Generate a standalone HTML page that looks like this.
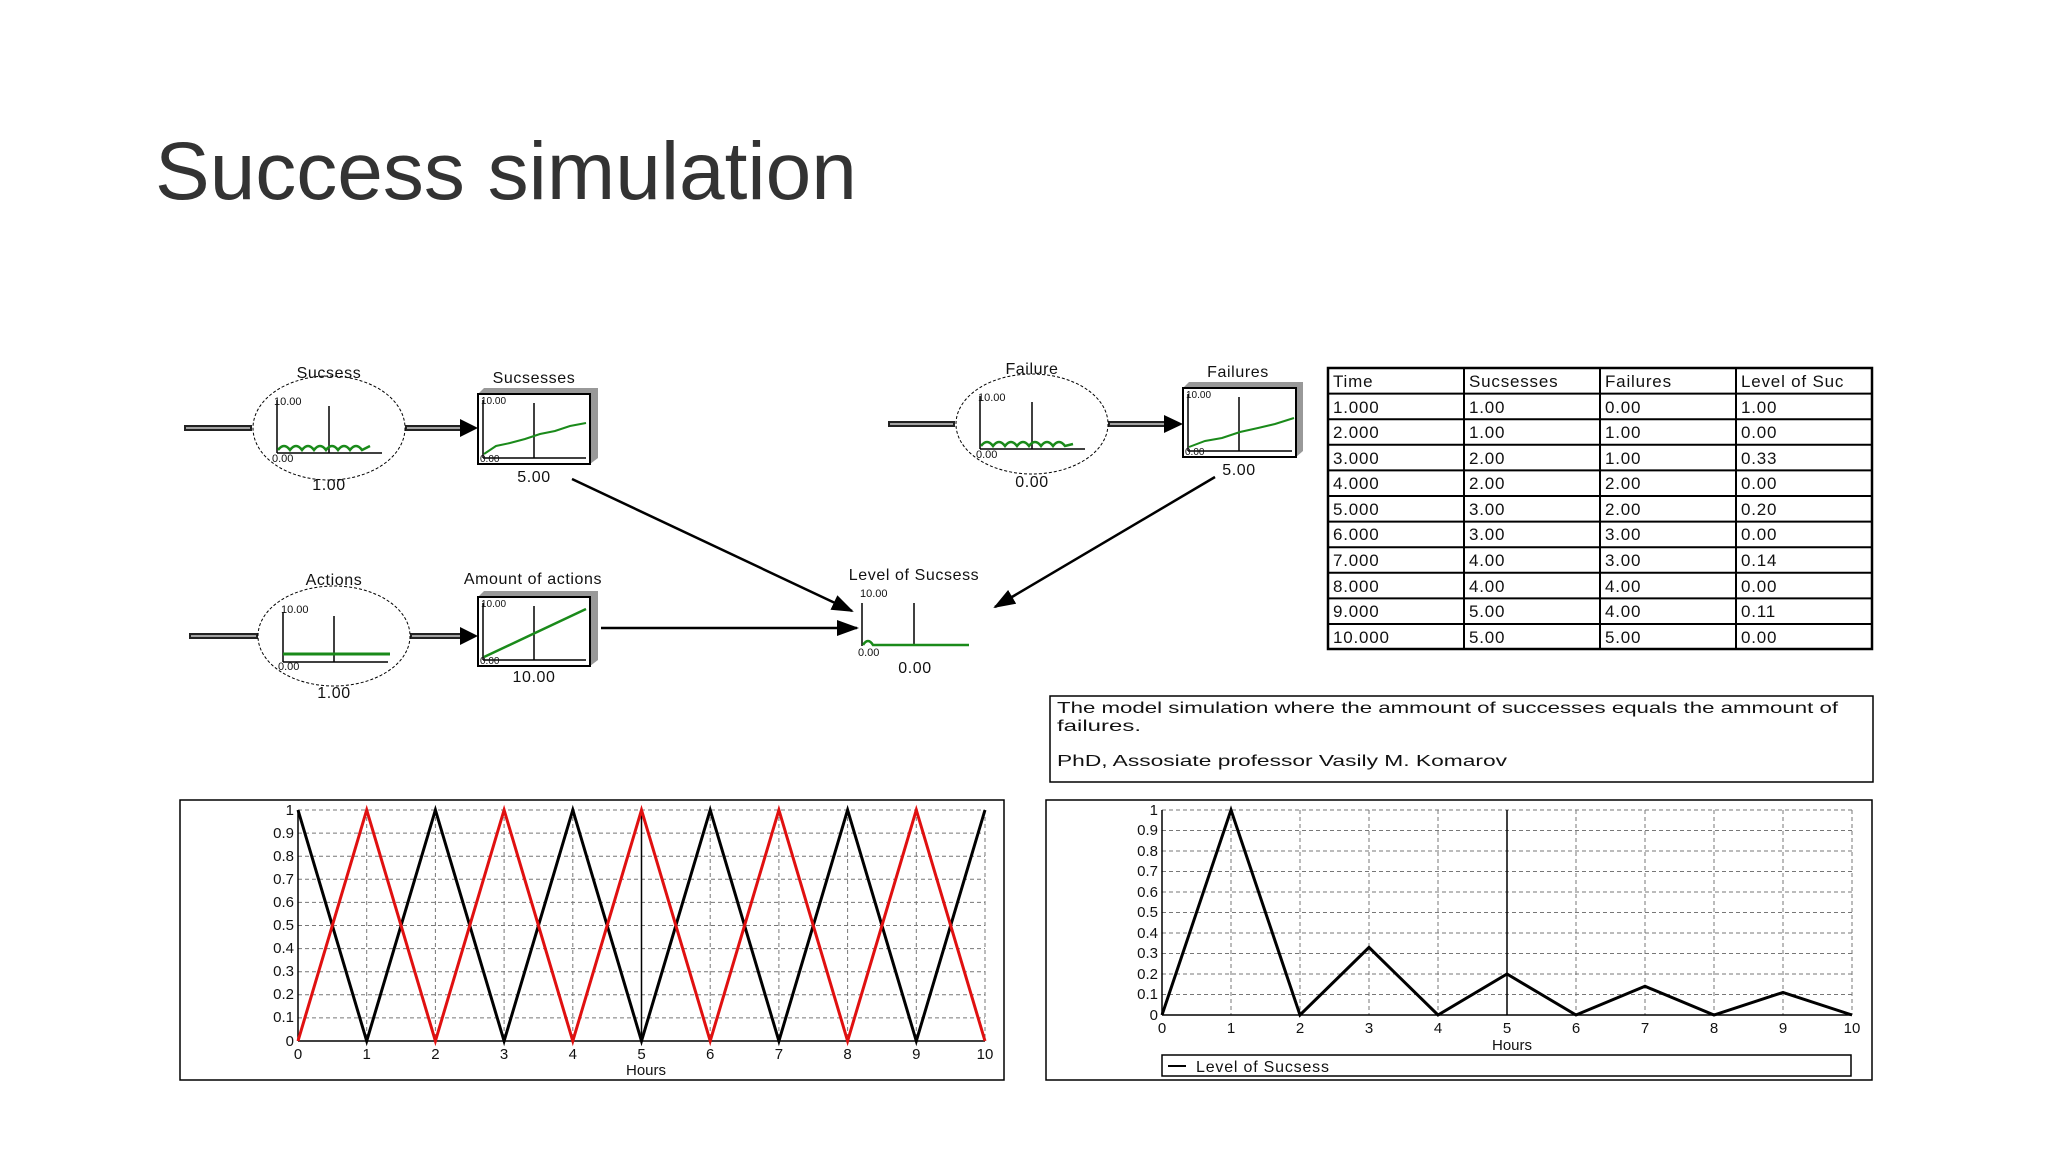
<!DOCTYPE html>
<html><head><meta charset="utf-8"><style>
html,body{margin:0;padding:0;background:#fff;}
svg{display:block;font-family:"Liberation Sans",sans-serif;}
</style></head><body>
<svg width="2048" height="1152" viewBox="0 0 2048 1152" xmlns="http://www.w3.org/2000/svg">
<defs>
<marker id="ab" markerWidth="22" markerHeight="16" refX="20" refY="8" orient="auto" markerUnits="userSpaceOnUse"><path d="M0,0 L22,8 L0,16 Z" fill="#000"/></marker>
</defs>
<rect width="2048" height="1152" fill="#fff"/>
<text x="155" y="199" font-size="82" fill="#333">Success simulation</text>

<g font-size="16" fill="#111" text-anchor="middle" letter-spacing="0.6">
<g stroke="#222" stroke-width="6" fill="none">
<line x1="184" y1="428" x2="252" y2="428"/><line x1="405" y1="428" x2="462" y2="428"/>
<line x1="189" y1="636" x2="258" y2="636"/><line x1="410" y1="636" x2="462" y2="636"/>
<line x1="888" y1="424" x2="955" y2="424"/><line x1="1108" y1="424" x2="1166" y2="424"/>
</g>
<g stroke="#ccc" stroke-width="1.5" fill="none">
<line x1="186" y1="428" x2="250" y2="428"/><line x1="407" y1="428" x2="460" y2="428"/>
<line x1="191" y1="636" x2="256" y2="636"/><line x1="412" y1="636" x2="460" y2="636"/>
<line x1="890" y1="424" x2="953" y2="424"/><line x1="1110" y1="424" x2="1164" y2="424"/>
</g>
<path d="M460,419 L478,428 L460,437Z M460,627 L478,636 L460,645Z M1164,415 L1183,424 L1164,433Z" fill="#000"/>

<ellipse cx="329" cy="428" rx="76" ry="52" fill="none" stroke="#000" stroke-dasharray="3,2"/>
<text x="329" y="378">Sucsess</text><text x="329" y="490">1.00</text>
<g stroke="#000" stroke-width="1.5"><line x1="277" y1="400" x2="277" y2="453"/><line x1="329" y1="406" x2="329" y2="453"/><line x1="277" y1="453" x2="382" y2="453"/></g>
<path d="M278,450 q6,-8 12,0 q6,-8 12,0 q6,-8 12,0 q6,-8 12,0 q6,-8 12,0 q6,-8 12,0 q6,-8 12,0 l8,-4" stroke="#1a8a1a" stroke-width="2.5" fill="none"/>
<text x="274" y="405" font-size="11" text-anchor="start" letter-spacing="0">10.00</text><text x="272" y="462" font-size="11" text-anchor="start" letter-spacing="0">0.00</text>

<path d="M478,394 L484,388 L598,388 L598,458 L590,464Z" fill="#999"/>
<rect x="478" y="394" width="112" height="70" fill="#fff" stroke="#000" stroke-width="2"/>
<text x="534" y="383">Sucsesses</text><text x="534" y="482">5.00</text>
<g stroke="#000" stroke-width="1.5"><line x1="483" y1="400" x2="483" y2="458"/><line x1="534" y1="403" x2="534" y2="458"/><line x1="483" y1="458" x2="586" y2="458"/></g>
<path d="M484,454 L496,446 L510,443 L525,439 L540,434 L555,431 L570,426 L586,423" stroke="#1a8a1a" stroke-width="2" fill="none"/>
<text x="481" y="404" font-size="10" text-anchor="start" letter-spacing="0">10.00</text><text x="480" y="462" font-size="10" text-anchor="start" letter-spacing="0">0.00</text>

<ellipse cx="334" cy="636" rx="76" ry="50" fill="none" stroke="#000" stroke-dasharray="3,2"/>
<text x="334" y="585">Actions</text><text x="334" y="698">1.00</text>
<g stroke="#000" stroke-width="1.5"><line x1="283" y1="612" x2="283" y2="662"/><line x1="334" y1="616" x2="334" y2="662"/><line x1="283" y1="662" x2="388" y2="662"/></g>
<line x1="283" y1="654" x2="390" y2="654" stroke="#1a8a1a" stroke-width="3"/>
<text x="281" y="613" font-size="11" text-anchor="start" letter-spacing="0">10.00</text><text x="278" y="670" font-size="11" text-anchor="start" letter-spacing="0">0.00</text>

<path d="M478,597 L484,591 L598,591 L598,660 L590,666Z" fill="#999"/>
<rect x="478" y="597" width="112" height="69" fill="#fff" stroke="#000" stroke-width="2"/>
<text x="533" y="584">Amount of actions</text><text x="534" y="682">10.00</text>
<g stroke="#000" stroke-width="1.5"><line x1="483" y1="603" x2="483" y2="660"/><line x1="534" y1="606" x2="534" y2="660"/><line x1="483" y1="660" x2="586" y2="660"/></g>
<path d="M484,657 L586,609" stroke="#1a8a1a" stroke-width="2.5" fill="none"/>
<text x="481" y="607" font-size="10" text-anchor="start" letter-spacing="0">10.00</text><text x="480" y="664" font-size="10" text-anchor="start" letter-spacing="0">0.00</text>

<ellipse cx="1032" cy="424" rx="76" ry="50" fill="none" stroke="#000" stroke-dasharray="3,2"/>
<text x="1032" y="374">Failure</text><text x="1032" y="487">0.00</text>
<g stroke="#000" stroke-width="1.5"><line x1="980" y1="396" x2="980" y2="449"/><line x1="1032" y1="402" x2="1032" y2="449"/><line x1="980" y1="449" x2="1085" y2="449"/></g>
<path d="M981,446 q6,-8 12,0 q6,-8 12,0 q6,-8 12,0 q6,-8 12,0 q6,-8 12,0 q6,-8 12,0 q6,-8 12,0 l8,-2" stroke="#1a8a1a" stroke-width="2.5" fill="none"/>
<text x="978" y="401" font-size="11" text-anchor="start" letter-spacing="0">10.00</text><text x="976" y="458" font-size="11" text-anchor="start" letter-spacing="0">0.00</text>

<path d="M1183,388 L1189,382 L1303,382 L1303,451 L1296,457Z" fill="#999"/>
<rect x="1183" y="388" width="113" height="69" fill="#fff" stroke="#000" stroke-width="2"/>
<text x="1238" y="377">Failures</text><text x="1239" y="475">5.00</text>
<g stroke="#000" stroke-width="1.5"><line x1="1188" y1="394" x2="1188" y2="451"/><line x1="1239" y1="397" x2="1239" y2="451"/><line x1="1188" y1="451" x2="1292" y2="451"/></g>
<path d="M1189,447 L1205,441 L1222,438 L1240,432 L1258,428 L1275,424 L1294,418" stroke="#1a8a1a" stroke-width="2" fill="none"/>
<text x="1186" y="398" font-size="10" text-anchor="start" letter-spacing="0">10.00</text><text x="1185" y="455" font-size="10" text-anchor="start" letter-spacing="0">0.00</text>

<text x="914" y="580">Level of Sucsess</text><text x="915" y="673">0.00</text>
<g stroke="#000" stroke-width="1.5"><line x1="862" y1="603" x2="862" y2="646"/><line x1="914" y1="603" x2="914" y2="646"/></g>
<path d="M863,645 q5,-8 10,0 L969,645" stroke="#1a8a1a" stroke-width="2.5" fill="none"/>
<text x="860" y="597" font-size="11" text-anchor="start" letter-spacing="0">10.00</text><text x="858" y="656" font-size="11" text-anchor="start" letter-spacing="0">0.00</text>

<g stroke="#000" stroke-width="2.5" fill="none">
<line x1="572" y1="479" x2="852" y2="611" marker-end="url(#ab)"/>
<line x1="601" y1="628" x2="857" y2="628" marker-end="url(#ab)"/>
<line x1="1215" y1="477" x2="995" y2="607" marker-end="url(#ab)"/>
</g>
</g>

<g font-size="17" fill="#111" letter-spacing="0.8">
<rect x="1328" y="368" width="544" height="281" fill="#fff" stroke="#000" stroke-width="2.5"/>
<g stroke="#000" stroke-width="2">
<line x1="1464" y1="368" x2="1464" y2="649"/><line x1="1600" y1="368" x2="1600" y2="649"/><line x1="1736" y1="368" x2="1736" y2="649"/>
<line x1="1328" y1="393.6" x2="1872" y2="393.6"/><line x1="1328" y1="419.2" x2="1872" y2="419.2"/><line x1="1328" y1="444.8" x2="1872" y2="444.8"/><line x1="1328" y1="470.4" x2="1872" y2="470.4"/><line x1="1328" y1="496" x2="1872" y2="496"/><line x1="1328" y1="521.6" x2="1872" y2="521.6"/><line x1="1328" y1="547.2" x2="1872" y2="547.2"/><line x1="1328" y1="572.8" x2="1872" y2="572.8"/><line x1="1328" y1="598.4" x2="1872" y2="598.4"/><line x1="1328" y1="624" x2="1872" y2="624"/>
</g>
<text x="1333" y="387">Time</text><text x="1469" y="387">Sucsesses</text><text x="1605" y="387">Failures</text><text x="1741" y="387">Level of Suc</text>
<text x="1333" y="413">1.000</text><text x="1469" y="413">1.00</text><text x="1605" y="413">0.00</text><text x="1741" y="413">1.00</text>
<text x="1333" y="438">2.000</text><text x="1469" y="438">1.00</text><text x="1605" y="438">1.00</text><text x="1741" y="438">0.00</text>
<text x="1333" y="464">3.000</text><text x="1469" y="464">2.00</text><text x="1605" y="464">1.00</text><text x="1741" y="464">0.33</text>
<text x="1333" y="489">4.000</text><text x="1469" y="489">2.00</text><text x="1605" y="489">2.00</text><text x="1741" y="489">0.00</text>
<text x="1333" y="515">5.000</text><text x="1469" y="515">3.00</text><text x="1605" y="515">2.00</text><text x="1741" y="515">0.20</text>
<text x="1333" y="540">6.000</text><text x="1469" y="540">3.00</text><text x="1605" y="540">3.00</text><text x="1741" y="540">0.00</text>
<text x="1333" y="566">7.000</text><text x="1469" y="566">4.00</text><text x="1605" y="566">3.00</text><text x="1741" y="566">0.14</text>
<text x="1333" y="592">8.000</text><text x="1469" y="592">4.00</text><text x="1605" y="592">4.00</text><text x="1741" y="592">0.00</text>
<text x="1333" y="617">9.000</text><text x="1469" y="617">5.00</text><text x="1605" y="617">4.00</text><text x="1741" y="617">0.11</text>
<text x="1333" y="643">10.000</text><text x="1469" y="643">5.00</text><text x="1605" y="643">5.00</text><text x="1741" y="643">0.00</text>
</g>

<rect x="1050" y="696" width="823" height="86" fill="#fff" stroke="#000" stroke-width="1.5"/>
<g font-size="16" fill="#111">
<text x="1057" y="713" textLength="781" lengthAdjust="spacingAndGlyphs">The model simulation where the ammount of successes equals the ammount of</text>
<text x="1057" y="731" textLength="84" lengthAdjust="spacingAndGlyphs">failures.</text>
<text x="1057" y="766" textLength="450" lengthAdjust="spacingAndGlyphs">PhD, Assosiate professor Vasily M. Komarov</text>
</g>

<rect x="180" y="800" width="824" height="280" fill="#fff" stroke="#000" stroke-width="1.5"/>
<g stroke="#777" stroke-width="1" stroke-dasharray="4,3">
<line x1="298" y1="810" x2="985" y2="810"/><line x1="298" y1="833.1" x2="985" y2="833.1"/><line x1="298" y1="856.2" x2="985" y2="856.2"/><line x1="298" y1="879.3" x2="985" y2="879.3"/><line x1="298" y1="902.4" x2="985" y2="902.4"/><line x1="298" y1="925.5" x2="985" y2="925.5"/><line x1="298" y1="948.6" x2="985" y2="948.6"/><line x1="298" y1="971.7" x2="985" y2="971.7"/><line x1="298" y1="994.8" x2="985" y2="994.8"/><line x1="298" y1="1017.9" x2="985" y2="1017.9"/>
<line x1="366.7" y1="810" x2="366.7" y2="1041"/><line x1="435.4" y1="810" x2="435.4" y2="1041"/><line x1="504.1" y1="810" x2="504.1" y2="1041"/><line x1="572.8" y1="810" x2="572.8" y2="1041"/><line x1="710.2" y1="810" x2="710.2" y2="1041"/><line x1="778.9" y1="810" x2="778.9" y2="1041"/><line x1="847.6" y1="810" x2="847.6" y2="1041"/><line x1="916.3" y1="810" x2="916.3" y2="1041"/><line x1="985" y1="810" x2="985" y2="1041"/>
</g>
<g stroke="#000" stroke-width="1.5"><line x1="298" y1="810" x2="298" y2="1041"/><line x1="298" y1="1041" x2="985" y2="1041"/><line x1="641.5" y1="810" x2="641.5" y2="1041"/></g>
<polyline points="298,810 366.7,1041 435.4,810 504.1,1041 572.8,810 641.5,1041 710.2,810 778.9,1041 847.6,810 916.3,1041 985,810" fill="none" stroke="#000" stroke-width="3"/>
<polyline points="298,1041 366.7,810 435.4,1041 504.1,810 572.8,1041 641.5,810 710.2,1041 778.9,810 847.6,1041 916.3,810 985,1041" fill="none" stroke="#e01010" stroke-width="3"/>
<g font-size="15" fill="#111" text-anchor="end">
<text x="294" y="815">1</text><text x="294" y="838">0.9</text><text x="294" y="861">0.8</text><text x="294" y="884">0.7</text><text x="294" y="907">0.6</text><text x="294" y="930">0.5</text><text x="294" y="953">0.4</text><text x="294" y="976">0.3</text><text x="294" y="999">0.2</text><text x="294" y="1022">0.1</text><text x="294" y="1046">0</text>
</g>
<g font-size="15" fill="#111" text-anchor="middle">
<text x="298" y="1059">0</text><text x="366.7" y="1059">1</text><text x="435.4" y="1059">2</text><text x="504.1" y="1059">3</text><text x="572.8" y="1059">4</text><text x="641.5" y="1059">5</text><text x="710.2" y="1059">6</text><text x="778.9" y="1059">7</text><text x="847.6" y="1059">8</text><text x="916.3" y="1059">9</text><text x="985" y="1059">10</text>
<text x="646" y="1075">Hours</text>
</g>

<rect x="1046" y="800" width="826" height="280" fill="#fff" stroke="#000" stroke-width="1.5"/>
<g stroke="#777" stroke-width="1" stroke-dasharray="4,3">
<line x1="1162" y1="810" x2="1852" y2="810"/><line x1="1162" y1="830.5" x2="1852" y2="830.5"/><line x1="1162" y1="851" x2="1852" y2="851"/><line x1="1162" y1="871.5" x2="1852" y2="871.5"/><line x1="1162" y1="892" x2="1852" y2="892"/><line x1="1162" y1="912.5" x2="1852" y2="912.5"/><line x1="1162" y1="933" x2="1852" y2="933"/><line x1="1162" y1="953.5" x2="1852" y2="953.5"/><line x1="1162" y1="974" x2="1852" y2="974"/><line x1="1162" y1="994.5" x2="1852" y2="994.5"/>
<line x1="1231" y1="810" x2="1231" y2="1015"/><line x1="1300" y1="810" x2="1300" y2="1015"/><line x1="1369" y1="810" x2="1369" y2="1015"/><line x1="1438" y1="810" x2="1438" y2="1015"/><line x1="1576" y1="810" x2="1576" y2="1015"/><line x1="1645" y1="810" x2="1645" y2="1015"/><line x1="1714" y1="810" x2="1714" y2="1015"/><line x1="1783" y1="810" x2="1783" y2="1015"/><line x1="1852" y1="810" x2="1852" y2="1015"/>
</g>
<g stroke="#000" stroke-width="1.5"><line x1="1162" y1="810" x2="1162" y2="1015"/><line x1="1162" y1="1015" x2="1852" y2="1015"/><line x1="1507" y1="810" x2="1507" y2="1015"/></g>
<polyline points="1162,1015 1231,810 1300,1015 1369,947.4 1438,1015 1507,974 1576,1015 1645,986.3 1714,1015 1783,992.4 1852,1015" fill="none" stroke="#000" stroke-width="3"/>
<g font-size="15" fill="#111" text-anchor="end">
<text x="1158" y="815">1</text><text x="1158" y="835">0.9</text><text x="1158" y="856">0.8</text><text x="1158" y="876">0.7</text><text x="1158" y="897">0.6</text><text x="1158" y="917">0.5</text><text x="1158" y="938">0.4</text><text x="1158" y="958">0.3</text><text x="1158" y="979">0.2</text><text x="1158" y="999">0.1</text><text x="1158" y="1020">0</text>
</g>
<g font-size="15" fill="#111" text-anchor="middle">
<text x="1162" y="1033">0</text><text x="1231" y="1033">1</text><text x="1300" y="1033">2</text><text x="1369" y="1033">3</text><text x="1438" y="1033">4</text><text x="1507" y="1033">5</text><text x="1576" y="1033">6</text><text x="1645" y="1033">7</text><text x="1714" y="1033">8</text><text x="1783" y="1033">9</text><text x="1852" y="1033">10</text>
<text x="1512" y="1050">Hours</text>
</g>
<rect x="1162" y="1055" width="689" height="21" fill="#fff" stroke="#000" stroke-width="1.5"/>
<line x1="1168" y1="1066" x2="1186" y2="1066" stroke="#000" stroke-width="2"/>
<text x="1196" y="1072" font-size="16" fill="#111" letter-spacing="0.8">Level of Sucsess</text>
</svg>
</body></html>
